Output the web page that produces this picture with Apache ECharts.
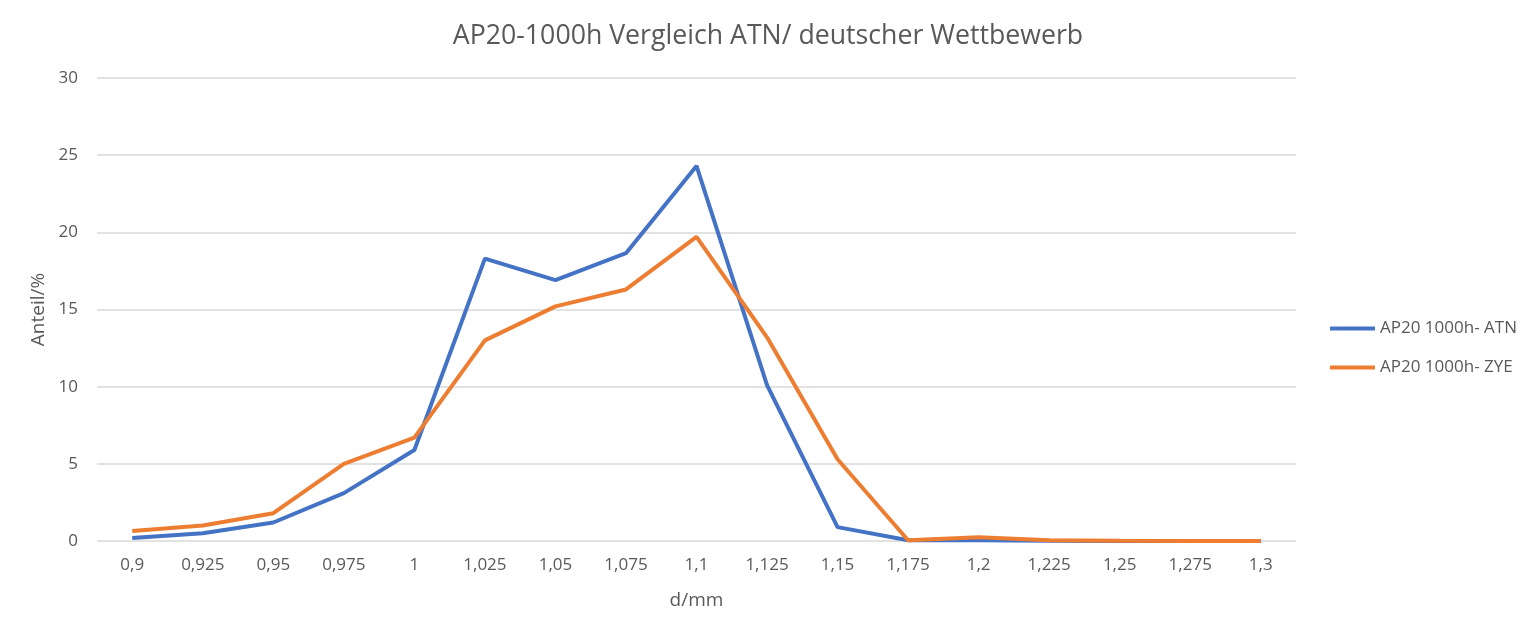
<!DOCTYPE html>
<html><head><meta charset="utf-8">
<script src="https://cdn.jsdelivr.net/npm/echarts@6/dist/echarts.min.js"></script>
<style>html,body{margin:0;padding:0;background:#fff}#c{width:1536px;height:634px}</style>
</head><body><div id="c"></div>
<script>
const categories = ['0,9','0,925','0,95','0,975','1','1,025','1,05','1,075','1,1','1,125','1,15','1,175','1,2','1,225','1,25','1,275','1,3'];
const atn = [0.2,0.5,1.2,3.1,5.9,18.3,16.9,18.65,24.3,10.1,0.9,0.05,0.05,0.02,0,0,0];
const zye = [0.65,1.0,1.8,5.0,6.7,13.0,15.2,16.3,19.7,13.2,5.3,0.05,0.25,0.05,0.02,0,0];
const yTicks = [0,5,10,15,20,25,30];
const font = 'Open Sans';
const chart = echarts.init(document.getElementById('c'));
chart.setOption({
  animation:false,
  title:{text:'AP20-1000h Vergleich ATN/ deutscher Wettbewerb',left:'center',top:18,
    textStyle:{fontFamily:font,fontSize:26.7,fontWeight:'normal',color:'#595959'}},
  legend:{orient:'vertical',left:1325,top:315,itemWidth:45,itemHeight:4,itemGap:22,icon:'rect',
    textStyle:{fontFamily:font,fontSize:17,color:'#595959'},
    data:['AP20 1000h- ATN','AP20 1000h- ZYE']},
  grid:{left:97,right:240,top:78,bottom:93},
  xAxis:{type:'category',data:categories,boundaryGap:true,name:'d/mm',nameLocation:'middle',nameGap:50,
    nameTextStyle:{fontFamily:font,fontSize:19,color:'#595959'},
    axisLine:{show:false},axisTick:{show:false},
    axisLabel:{fontFamily:font,fontSize:17,color:'#595959',margin:16}},
  yAxis:{type:'value',min:0,max:30,interval:5,name:'Anteil/%',nameLocation:'middle',nameGap:48,
    nameTextStyle:{fontFamily:font,fontSize:19,color:'#595959'},
    axisLine:{show:false},axisTick:{show:false},
    axisLabel:{fontFamily:font,fontSize:17,color:'#595959',margin:19,formatter:v=>yTicks.includes(v)?String(v):''},
    splitLine:{lineStyle:{color:'#d9d9d9',width:1.5}}},
  series:[
    {name:'AP20 1000h- ATN',type:'line',data:atn,symbol:'none',lineStyle:{color:'#4472C4',width:4},itemStyle:{color:'#4472C4'}},
    {name:'AP20 1000h- ZYE',type:'line',data:zye,symbol:'none',lineStyle:{color:'#ED7D31',width:4},itemStyle:{color:'#ED7D31'}}
  ]
});
</script></body></html>
